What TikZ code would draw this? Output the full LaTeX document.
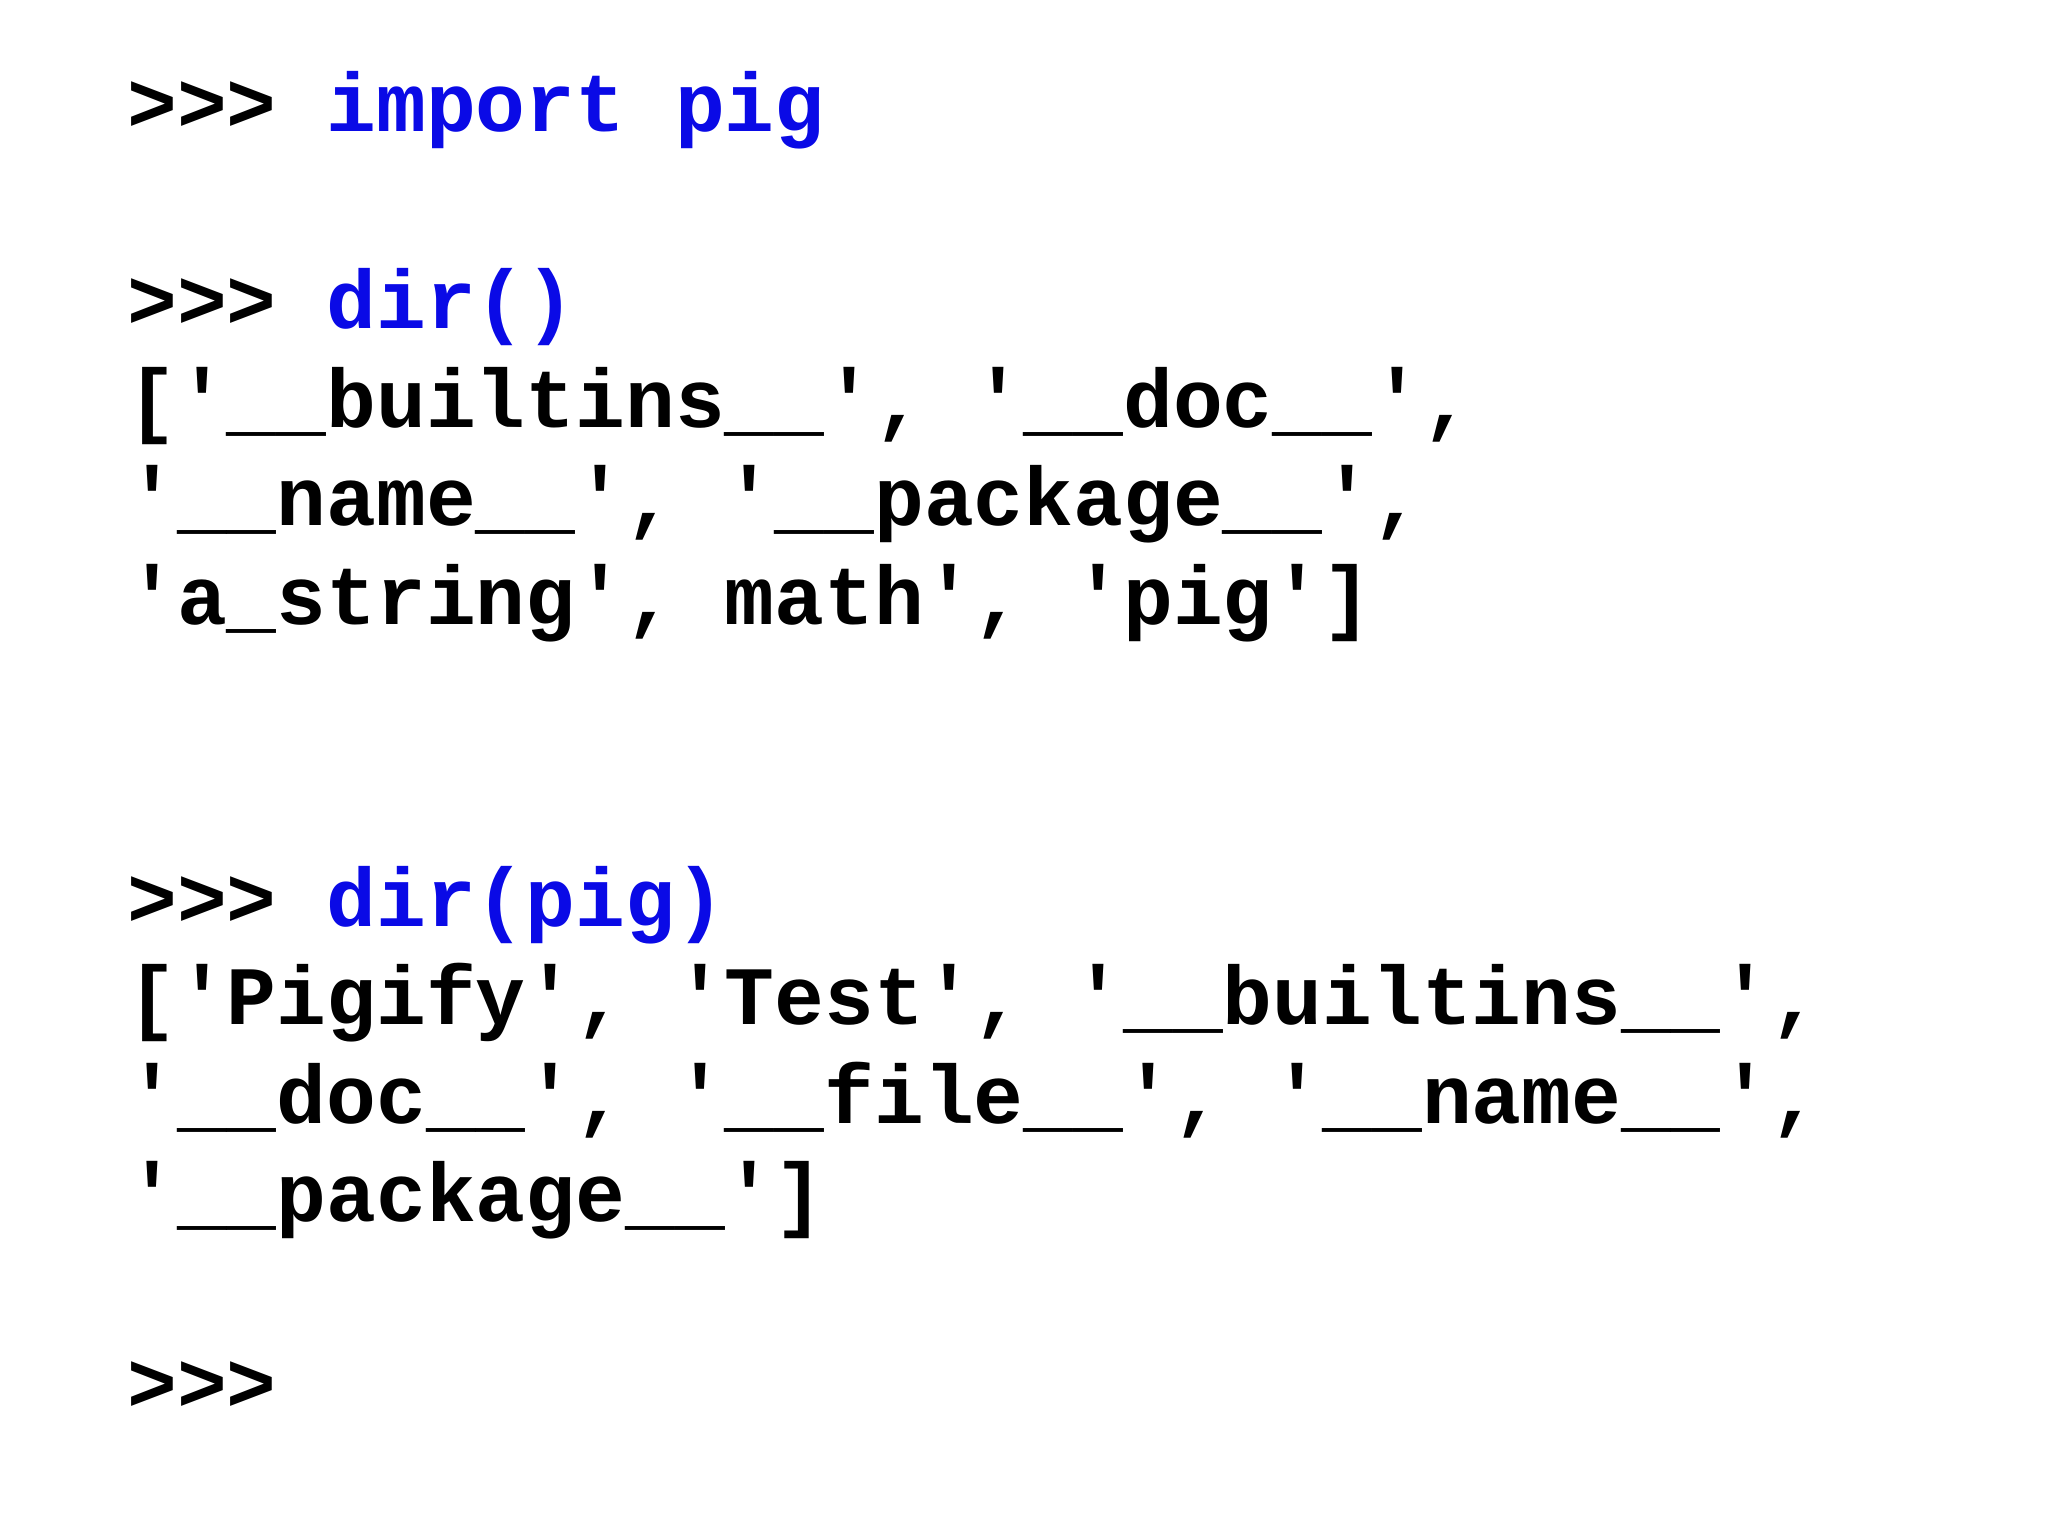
\documentclass[tikz,border=0pt]{standalone}
\usepackage{fontspec}
\newfontfamily\code{Liberation Mono}
\definecolor{kw}{RGB}{10,10,230}
\begin{document}
\begin{tikzpicture}[x=1pt,y=-1pt,
  ln/.style={anchor=base west,inner sep=0pt,font=\code\bfseries\fontsize{83}{98}\selectfont}]
\useasboundingbox (0,0) rectangle (2048,1537);
\node[ln] (l1) at (127,131) {>>> \textcolor{kw}{import pig}};
\node[ln] (l2) at (127,328) {>>> \textcolor{kw}{dir()}};
\node[ln] (l3) at (127,427) {['\_\_builtins\_\_', '\_\_doc\_\_',};
\node[ln] (l4) at (127,525) {'\_\_name\_\_', '\_\_package\_\_',};
\node[ln] (l5) at (127,624) {'a\_string', math', 'pig']};
\node[ln] (l6) at (127,926) {>>> \textcolor{kw}{dir(pig)}};
\node[ln] (l7) at (127,1024) {['Pigify', 'Test', '\_\_builtins\_\_',};
\node[ln] (l8) at (127,1123) {'\_\_doc\_\_', '\_\_file\_\_', '\_\_name\_\_',};
\node[ln] (l9) at (127,1221) {'\_\_package\_\_']};
\node[ln] (l10) at (127,1411) {>>>};
\end{tikzpicture}
\end{document}
